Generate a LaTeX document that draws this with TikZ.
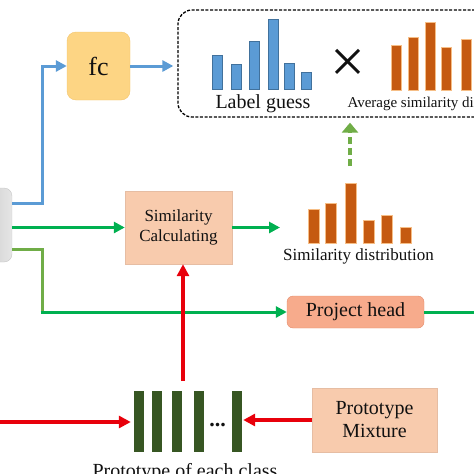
\documentclass[tikz,border=0pt]{standalone}
\usepackage{fontspec}
\setmainfont{Liberation Serif}
\usetikzlibrary{arrows.meta,calc,positioning}
\definecolor{ink}{HTML}{111111}
\definecolor{guessblue}{HTML}{5B9BD5}
\definecolor{guessedge}{HTML}{41719C}
\definecolor{simorange}{HTML}{C55A11}
\definecolor{simglow}{HTML}{F6BE86}
\definecolor{peach}{HTML}{F8CBAD}
\definecolor{peachedge}{HTML}{E6BDA3}
\definecolor{salmon}{HTML}{F7AB8C}
\definecolor{salmonedge}{HTML}{E48C6C}
\definecolor{fcyellow}{HTML}{FDD584}
\definecolor{fcedge}{HTML}{F2C46C}
\definecolor{flowgreen}{HTML}{00B050}
\definecolor{olive}{HTML}{70AD47}
\definecolor{protored}{HTML}{E8000B}
\definecolor{protogreen}{HTML}{375623}
\newcommand{\bigtxt}{\fontsize{20}{23}\selectfont}
\newcommand{\midtxt}{\fontsize{17}{20}\selectfont}
\newcommand{\smalltxt}{\fontsize{15}{18}\selectfont}

\begin{document}
\begin{tikzpicture}[x=1pt,y=-1pt,text=ink,
  flow/.style={line width=3pt,-{Triangle[length=11pt,width=11pt]}},
  redflow/.style={line width=3.4pt,protored,-{Triangle[length=12pt,width=12pt]}},
  peachbox/.style={draw=peachedge,fill=peach,align=center}]
  \clip (0,0) rectangle (474,474);

  % backbone output (cut at the left edge)
  \node[draw=gray!45,rounded corners=8,left color=gray!60,right color=gray!20,
        minimum width=60,minimum height=74] (enc) at (-18,225) {};

  \node[draw=fcedge,fill=fcyellow,rounded corners=9,minimum width=63,
        minimum height=68,font=\fontsize{26}{28}\selectfont] (fc) at (98.5,66) {fc};

  % pseudo label box
  \node[draw,line width=1.3pt,dash pattern=on 3pt off 1.6pt,rounded corners=14,
        minimum width=440,minimum height=107] (pseudo) at (398,63.5) {};
  \foreach \x/\t in {217.5/55,236.3/64,254.5/41,273/19,289/63,306.7/72}{
    \draw[guessedge,fill=guessblue,line width=.8pt] (\x-5,89) rectangle (\x+5,\t);
  }
  \node[anchor=base,font=\bigtxt] (guess) at (263,108) {Label guess};
  \node[font=\fontsize{62}{62}\selectfont,inner sep=0] (times) at (348,66) {×};
  \foreach \x/\t in {396.7/45,413.3/37,430/22,446.3/47,466.3/39}{
    \draw[simglow,fill=simorange,line width=.8pt] (\x-5,90.5) rectangle (\x+5,\t);
  }
  \node[anchor=base west,font=\smalltxt] (avg) at (344,107)
    {Average similarity distribution};

  \node[peachbox,minimum width=107,minimum height=73,font=\midtxt]
    (simcalc) at (178.5,227.5) {Similarity\\Calculating};

  % similarity distribution
  \foreach \x/\t in {313.5/209,331/203,351/183,369/220,387/215,406/227}{
    \draw[simglow,fill=simorange,line width=.8pt] (\x-5.5,243) rectangle (\x+5.5,\t);
  }
  \node[anchor=base,font=\midtxt] (simdist) at (358.5,260) {Similarity distribution};

  \node[draw=salmonedge,fill=salmon,rounded corners=6,minimum width=137,
        minimum height=32,font=\bigtxt] (proj) at (355.5,312) {Project head};

  % prototypes
  \node[minimum width=107,minimum height=61,inner sep=0] (protos) at (187.5,421.5) {};
  \foreach \x in {139,157,177,198.5,236.5}{
    \fill[protogreen] (\x-5,391) rectangle (\x+5,452);
  }
  \node[anchor=base,font=\fontsize{22}{22}\selectfont\bfseries] (dots) at (217.5,426) {...};
  \node[anchor=base,font=\bigtxt] (protolab) at (185,477) {Prototype of each class};

  \node[peachbox,minimum width=125,minimum height=64,font=\bigtxt]
    (mix) at (374.5,420) {Prototype\\Mixture};

  % connectors
  \coordinate (bendA) at (42,203);
  \coordinate (bendB) at (42,249);
  \coordinate (distin) at (280,229);
  \coordinate (projout) at (480,312);
  \coordinate (upfrom) at (350,166);
  \coordinate (redfrom) at (183,381);
  \coordinate (redin) at (-5,422);

  \draw[flow,guessblue] (enc.east |- bendA) -- (bendA) |- (fc.west);
  \draw[flow,guessblue,shorten >=4pt] (fc.east) -- (fc.east -| pseudo.west);

  \draw[flow,flowgreen] (enc.east |- simcalc) -- (simcalc.west);
  \draw[flow,flowgreen] (simcalc.east) -- (simcalc.east -| distin);
  \draw[line width=3pt,olive] (enc.east |- bendB) -- (bendB) -- (bendB |- proj);
  \draw[flow,flowgreen] ($(bendB |- proj)+(-1.5,0)$) -- (proj.west);
  \draw[line width=3pt,flowgreen] (proj.east) -- (projout);
  \draw[line width=3.4pt,olive,dash pattern=on 7pt off 4pt,shorten >=5pt,
        -{Triangle[length=10pt,width=16pt]}] (upfrom) -- (upfrom |- pseudo.south);

  \draw[redflow] (redfrom) -- (redfrom |- simcalc.south);
  \draw[redflow,shorten >=3pt] (redin) -- (redin -| protos.west);
  \draw[redflow,shorten >=2pt] (mix.west) -- (mix.west -| protos.east);
\end{tikzpicture}
\end{document}
